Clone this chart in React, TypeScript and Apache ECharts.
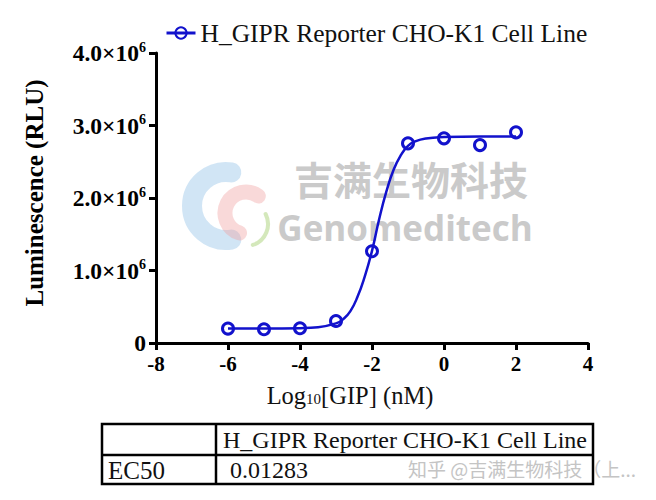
import React, { useEffect, useRef } from 'react';
import * as echarts from 'echarts';

// ---- data ----
const seriesName = 'H_GIPR Reporter CHO-K1 Cell Line';
const logDose = [-6, -5, -4, -3, -2, -1, 0, 1, 2];
const luminescence = [199000, 190000, 203000, 304000, 1266000, 2754000, 2823000, 2730000, 2906000];
// fitted curve, points
const curveX = [-6, -5, -4, -3.5, -3, -2.8, -2.6, -2.4, -2.2, -2.0, -1.8, -1.6, -1.4, -1.2, -1.0, -0.8, -0.5, 0, 1, 2];
const curveY = [200000, 200000, 205000, 218000, 270000, 330000, 440000, 640000, 920000, 1270000, 1710000, 2090000, 2390000, 2590000, 2720000, 2780000, 2820000, 2840000, 2850000, 2850000];
const xAxisTitle = ['Log', '10', '[GIP] (nM)'];
const yAxisTitle = 'Luminescence (RLU)';
const tableHeader = ['', 'H_GIPR Reporter CHO-K1 Cell Line'];
const tableRow = ['EC50', '0.01283'];
const brandCN = '吉满生物科技';
const brandEN = 'Genomeditech';
const zhihuMark = '知乎 @吉满生物科技（上...';

const BLUE = '#1212cc';
const SERIF = '"Liberation Serif", "Times New Roman", serif';
const CJK = '"Noto Sans CJK SC", sans-serif';

export default function App() {
  const ref = useRef<HTMLDivElement>(null);
  useEffect(() => {
    document.body.style.margin = '0';
    const chart = echarts.init(ref.current!, null, { renderer: 'svg' });
    const points = logDose.map((x, i) => [x, luminescence[i]]);
    const curve = curveX.map((x, i) => [x, curveY[i]]);
    const tl = { x: 102, y: 424 };
    const br = { x: 593, y: 484 };
    const midY = 455;
    const divX = 216;
    chart.setOption({
      animation: false,
      grid: { left: 156, right: 68, top: 53, bottom: 157 },
      legend: {
        data: [seriesName],
        left: 160,
        top: 15,
        itemWidth: 29,
        itemHeight: 14,
        textStyle: { fontFamily: SERIF, fontSize: 25.5, color: '#111' },
        lineStyle: { width: 3, color: BLUE, opacity: 1 },
        selectedMode: false,
      },
      xAxis: {
        type: 'value',
        min: -8,
        max: 4,
        interval: 2,
        name: `{a|${xAxisTitle[0]}}{s|${xAxisTitle[1]}}{a|${xAxisTitle[2]}}`,
        nameLocation: 'middle',
        nameGap: 40,
        nameTextStyle: {
          padding: [0, 44, 0, 0],
          rich: {
            a: { fontFamily: SERIF, fontSize: 24.5, color: '#111' },
            s: { fontFamily: SERIF, fontSize: 15, color: '#111', padding: [6, 0, 0, 0] },
          },
        },
        axisLine: { onZero: false, lineStyle: { color: '#000', width: 3 } },
        axisTick: { length: 7, lineStyle: { color: '#000', width: 3 } },
        axisLabel: { fontFamily: SERIF, fontWeight: 'bold', fontSize: 21, color: '#000', margin: 10 },
        splitLine: { show: false },
      },
      yAxis: {
        type: 'value',
        min: 0,
        max: 4000000,
        interval: 1000000,
        name: yAxisTitle,
        nameLocation: 'middle',
        nameGap: 109,
        nameTextStyle: { fontFamily: SERIF, fontWeight: 'bold', fontSize: 25, color: '#000', padding: [0, 0, 0, 10] },
        axisLine: { show: true, onZero: false, lineStyle: { color: '#000', width: 3 } },
        axisTick: { show: true, length: 7, lineStyle: { color: '#000', width: 3 } },
        axisLabel: {
          margin: 10,
          formatter: (v: number) => (v === 0 ? '{a|0}' : `{a|${(v / 1e6).toFixed(1)}×10}{s|6}`),
          rich: {
            a: { fontFamily: SERIF, fontWeight: 'bold', fontSize: 23.5, color: '#000' },
            s: { fontFamily: SERIF, fontWeight: 'bold', fontSize: 14, color: '#000', padding: [0, 0, 12, 0] },
          },
        },
        splitLine: { show: false },
      },
      series: [
        {
          name: 'fit',
          type: 'line',
          data: curve,
          smooth: 0.5,
          symbol: 'none',
          lineStyle: { color: BLUE, width: 2.5 },
          z: 2,
          silent: true,
        },
        {
          name: seriesName,
          type: 'line',
          data: points,
          symbol: 'circle',
          symbolSize: 11,
          itemStyle: { color: 'rgba(255,255,255,0)', borderColor: BLUE, borderWidth: 3 },
          lineStyle: { opacity: 0, color: BLUE },
          z: 3,
        },
      ],
      graphic: [
        // background watermark logo
        {
          type: 'arc',
          z: -10,
          shape: { cx: 226, cy: 206, r: 34, startAngle: Math.PI * 0.45, endAngle: Math.PI * 1.55 },
          style: { stroke: 'rgba(140,190,230,0.4)', lineWidth: 20, lineCap: 'round', fill: 'none' },
        },
        {
          type: 'arc',
          z: -10,
          shape: { cx: 246, cy: 213, r: 21, startAngle: Math.PI * 0.6, endAngle: Math.PI * 1.7 },
          style: { stroke: 'rgba(240,160,160,0.4)', lineWidth: 15, lineCap: 'round', fill: 'none' },
        },
        {
          type: 'arc',
          z: -10,
          shape: { cx: 246, cy: 224, r: 22, startAngle: -Math.PI * 0.15, endAngle: Math.PI * 0.4 },
          style: { stroke: 'rgba(170,210,120,0.5)', lineWidth: 4, lineCap: 'round', fill: 'none' },
        },
        {
          type: 'text',
          z: -10,
          x: 411,
          y: 178,
          style: { text: brandCN, fontFamily: CJK, fontWeight: 'bold', fontSize: 39, fill: '#cacaca', align: 'center', verticalAlign: 'middle' },
        },
        {
          type: 'text',
          z: -10,
          x: 405,
          y: 227,
          style: { text: brandEN, fontFamily: '"Open Sans", sans-serif', fontWeight: 'bold', fontSize: 35, fill: '#cacaca', align: 'center', verticalAlign: 'middle' },
        },
        // table
        {
          type: 'rect',
          shape: { x: tl.x, y: tl.y, width: br.x - tl.x, height: br.y - tl.y },
          style: { fill: 'none', stroke: '#000', lineWidth: 2.5 },
        },
        { type: 'line', shape: { x1: tl.x, y1: midY, x2: br.x, y2: midY }, style: { stroke: '#000', lineWidth: 2.5 } },
        { type: 'line', shape: { x1: divX, y1: tl.y, x2: divX, y2: br.y }, style: { stroke: '#000', lineWidth: 2.5 } },
        {
          type: 'text',
          x: 223,
          y: 440,
          style: { text: tableHeader[1], fontFamily: SERIF, fontSize: 24, fill: '#111', align: 'left', verticalAlign: 'middle' },
        },
        {
          type: 'text',
          x: 108,
          y: 470,
          style: { text: tableRow[0], fontFamily: SERIF, fontSize: 25, fill: '#111', align: 'left', verticalAlign: 'middle' },
        },
        {
          type: 'text',
          x: 230,
          y: 470,
          style: { text: tableRow[1], fontFamily: SERIF, fontSize: 24, fill: '#111', align: 'left', verticalAlign: 'middle' },
        },
        {
          type: 'text',
          x: 408,
          y: 468,
          z: 10,
          style: { text: zhihuMark, fontFamily: CJK, fontSize: 19, fill: '#c4c4c4', align: 'left', verticalAlign: 'middle' },
        },
      ],
    });
    return () => chart.dispose();
  }, []);
  return <div ref={ref} style={{ width: 656, height: 500 }} />;
}
